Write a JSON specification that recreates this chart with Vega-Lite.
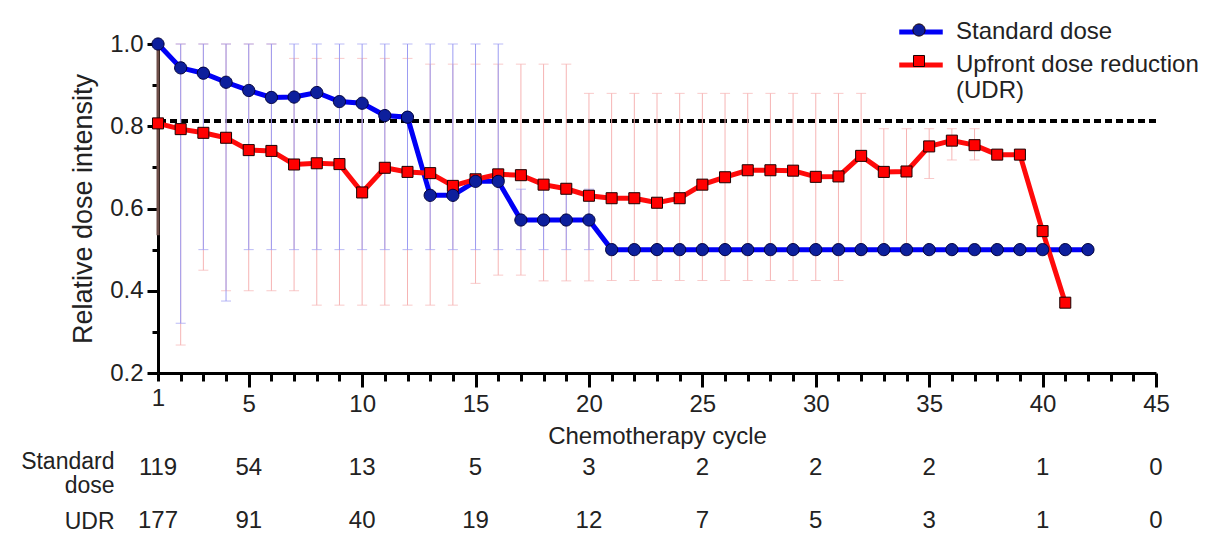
{
  "$schema": "https://vega.github.io/schema/vega-lite/v6.json",
  "background": "white",
  "padding": {"left": 20, "top": 15, "right": 5, "bottom": 5},
  "config": {
    "font": "Liberation Sans",
    "view": {"stroke": null},
    "axis": {"labelFont": "Liberation Sans", "titleFont": "Liberation Sans", "labelColor": "#222222", "titleColor": "#222222", "titleFontWeight": "normal", "grid": false, "labelOverlap": false},
    "legend": {"labelFont": "Liberation Sans", "labelColor": "#222222", "padding": 0}
  },
  "datasets": {
    "rdi": [
      {"cycle": 1, "group": "Standard dose", "rdi": 1.0, "lo": null, "hi": null},
      {"cycle": 2, "group": "Standard dose", "rdi": 0.942, "lo": 0.321, "hi": 1.0},
      {"cycle": 3, "group": "Standard dose", "rdi": 0.929, "lo": 0.5, "hi": 1.0},
      {"cycle": 4, "group": "Standard dose", "rdi": 0.907, "lo": 0.375, "hi": 1.0},
      {"cycle": 5, "group": "Standard dose", "rdi": 0.887, "lo": 0.5, "hi": 1.0},
      {"cycle": 6, "group": "Standard dose", "rdi": 0.87, "lo": 0.5, "hi": 1.0},
      {"cycle": 7, "group": "Standard dose", "rdi": 0.871, "lo": 0.5, "hi": 1.0},
      {"cycle": 8, "group": "Standard dose", "rdi": 0.882, "lo": 0.5, "hi": 1.0},
      {"cycle": 9, "group": "Standard dose", "rdi": 0.86, "lo": 0.5, "hi": 1.0},
      {"cycle": 10, "group": "Standard dose", "rdi": 0.856, "lo": 0.5, "hi": 1.0},
      {"cycle": 11, "group": "Standard dose", "rdi": 0.826, "lo": 0.5, "hi": 1.0},
      {"cycle": 12, "group": "Standard dose", "rdi": 0.822, "lo": 0.5, "hi": 1.0},
      {"cycle": 13, "group": "Standard dose", "rdi": 0.632, "lo": 0.5, "hi": 1.0},
      {"cycle": 14, "group": "Standard dose", "rdi": 0.632, "lo": 0.5, "hi": 1.0},
      {"cycle": 15, "group": "Standard dose", "rdi": 0.666, "lo": 0.5, "hi": 1.0},
      {"cycle": 16, "group": "Standard dose", "rdi": 0.666, "lo": 0.5, "hi": 1.0},
      {"cycle": 17, "group": "Standard dose", "rdi": 0.572, "lo": 0.5, "hi": 0.647},
      {"cycle": 18, "group": "Standard dose", "rdi": 0.572, "lo": 0.5, "hi": 0.647},
      {"cycle": 19, "group": "Standard dose", "rdi": 0.572, "lo": 0.5, "hi": 0.647},
      {"cycle": 20, "group": "Standard dose", "rdi": 0.572, "lo": 0.5, "hi": 0.647},
      {"cycle": 21, "group": "Standard dose", "rdi": 0.5, "lo": null, "hi": null},
      {"cycle": 22, "group": "Standard dose", "rdi": 0.5, "lo": null, "hi": null},
      {"cycle": 23, "group": "Standard dose", "rdi": 0.5, "lo": null, "hi": null},
      {"cycle": 24, "group": "Standard dose", "rdi": 0.5, "lo": null, "hi": null},
      {"cycle": 25, "group": "Standard dose", "rdi": 0.5, "lo": null, "hi": null},
      {"cycle": 26, "group": "Standard dose", "rdi": 0.5, "lo": null, "hi": null},
      {"cycle": 27, "group": "Standard dose", "rdi": 0.5, "lo": null, "hi": null},
      {"cycle": 28, "group": "Standard dose", "rdi": 0.5, "lo": null, "hi": null},
      {"cycle": 29, "group": "Standard dose", "rdi": 0.5, "lo": null, "hi": null},
      {"cycle": 30, "group": "Standard dose", "rdi": 0.5, "lo": null, "hi": null},
      {"cycle": 31, "group": "Standard dose", "rdi": 0.5, "lo": null, "hi": null},
      {"cycle": 32, "group": "Standard dose", "rdi": 0.5, "lo": null, "hi": null},
      {"cycle": 33, "group": "Standard dose", "rdi": 0.5, "lo": null, "hi": null},
      {"cycle": 34, "group": "Standard dose", "rdi": 0.5, "lo": null, "hi": null},
      {"cycle": 35, "group": "Standard dose", "rdi": 0.5, "lo": null, "hi": null},
      {"cycle": 36, "group": "Standard dose", "rdi": 0.5, "lo": null, "hi": null},
      {"cycle": 37, "group": "Standard dose", "rdi": 0.5, "lo": null, "hi": null},
      {"cycle": 38, "group": "Standard dose", "rdi": 0.5, "lo": null, "hi": null},
      {"cycle": 39, "group": "Standard dose", "rdi": 0.5, "lo": null, "hi": null},
      {"cycle": 40, "group": "Standard dose", "rdi": 0.5, "lo": null, "hi": null},
      {"cycle": 41, "group": "Standard dose", "rdi": 0.5, "lo": null, "hi": null},
      {"cycle": 42, "group": "Standard dose", "rdi": 0.5, "lo": null, "hi": null},
      {"cycle": 1, "group": "Upfront dose reduction (UDR)", "rdi": 0.807, "lo": 0.535, "hi": 1.0},
      {"cycle": 2, "group": "Upfront dose reduction (UDR)", "rdi": 0.793, "lo": 0.268, "hi": 1.0},
      {"cycle": 3, "group": "Upfront dose reduction (UDR)", "rdi": 0.784, "lo": 0.45, "hi": 1.0},
      {"cycle": 4, "group": "Upfront dose reduction (UDR)", "rdi": 0.772, "lo": 0.4, "hi": 1.0},
      {"cycle": 5, "group": "Upfront dose reduction (UDR)", "rdi": 0.742, "lo": 0.4, "hi": 1.0},
      {"cycle": 6, "group": "Upfront dose reduction (UDR)", "rdi": 0.74, "lo": 0.4, "hi": 1.0},
      {"cycle": 7, "group": "Upfront dose reduction (UDR)", "rdi": 0.707, "lo": 0.4, "hi": 0.965},
      {"cycle": 8, "group": "Upfront dose reduction (UDR)", "rdi": 0.71, "lo": 0.365, "hi": 0.965},
      {"cycle": 9, "group": "Upfront dose reduction (UDR)", "rdi": 0.708, "lo": 0.365, "hi": 0.965},
      {"cycle": 10, "group": "Upfront dose reduction (UDR)", "rdi": 0.639, "lo": 0.365, "hi": 0.965},
      {"cycle": 11, "group": "Upfront dose reduction (UDR)", "rdi": 0.699, "lo": 0.365, "hi": 0.965},
      {"cycle": 12, "group": "Upfront dose reduction (UDR)", "rdi": 0.689, "lo": 0.365, "hi": 0.965},
      {"cycle": 13, "group": "Upfront dose reduction (UDR)", "rdi": 0.686, "lo": 0.365, "hi": 0.951},
      {"cycle": 14, "group": "Upfront dose reduction (UDR)", "rdi": 0.655, "lo": 0.365, "hi": 0.951},
      {"cycle": 15, "group": "Upfront dose reduction (UDR)", "rdi": 0.671, "lo": 0.418, "hi": 0.951},
      {"cycle": 16, "group": "Upfront dose reduction (UDR)", "rdi": 0.683, "lo": 0.438, "hi": 0.951},
      {"cycle": 17, "group": "Upfront dose reduction (UDR)", "rdi": 0.681, "lo": 0.438, "hi": 0.951},
      {"cycle": 18, "group": "Upfront dose reduction (UDR)", "rdi": 0.658, "lo": 0.424, "hi": 0.951},
      {"cycle": 19, "group": "Upfront dose reduction (UDR)", "rdi": 0.648, "lo": 0.424, "hi": 0.951},
      {"cycle": 20, "group": "Upfront dose reduction (UDR)", "rdi": 0.631, "lo": 0.424, "hi": 0.88},
      {"cycle": 21, "group": "Upfront dose reduction (UDR)", "rdi": 0.625, "lo": 0.425, "hi": 0.88},
      {"cycle": 22, "group": "Upfront dose reduction (UDR)", "rdi": 0.625, "lo": 0.425, "hi": 0.88},
      {"cycle": 23, "group": "Upfront dose reduction (UDR)", "rdi": 0.614, "lo": 0.425, "hi": 0.88},
      {"cycle": 24, "group": "Upfront dose reduction (UDR)", "rdi": 0.625, "lo": 0.425, "hi": 0.88},
      {"cycle": 25, "group": "Upfront dose reduction (UDR)", "rdi": 0.658, "lo": 0.425, "hi": 0.88},
      {"cycle": 26, "group": "Upfront dose reduction (UDR)", "rdi": 0.676, "lo": 0.425, "hi": 0.88},
      {"cycle": 27, "group": "Upfront dose reduction (UDR)", "rdi": 0.693, "lo": 0.425, "hi": 0.88},
      {"cycle": 28, "group": "Upfront dose reduction (UDR)", "rdi": 0.693, "lo": 0.425, "hi": 0.88},
      {"cycle": 29, "group": "Upfront dose reduction (UDR)", "rdi": 0.692, "lo": 0.425, "hi": 0.88},
      {"cycle": 30, "group": "Upfront dose reduction (UDR)", "rdi": 0.677, "lo": 0.425, "hi": 0.88},
      {"cycle": 31, "group": "Upfront dose reduction (UDR)", "rdi": 0.678, "lo": 0.425, "hi": 0.88},
      {"cycle": 32, "group": "Upfront dose reduction (UDR)", "rdi": 0.728, "lo": 0.487, "hi": 0.88},
      {"cycle": 33, "group": "Upfront dose reduction (UDR)", "rdi": 0.689, "lo": 0.487, "hi": 0.794},
      {"cycle": 34, "group": "Upfront dose reduction (UDR)", "rdi": 0.69, "lo": 0.487, "hi": 0.794},
      {"cycle": 35, "group": "Upfront dose reduction (UDR)", "rdi": 0.751, "lo": 0.673, "hi": 0.794},
      {"cycle": 36, "group": "Upfront dose reduction (UDR)", "rdi": 0.765, "lo": 0.718, "hi": 0.794},
      {"cycle": 37, "group": "Upfront dose reduction (UDR)", "rdi": 0.754, "lo": 0.718, "hi": 0.794},
      {"cycle": 38, "group": "Upfront dose reduction (UDR)", "rdi": 0.731, "lo": null, "hi": null},
      {"cycle": 39, "group": "Upfront dose reduction (UDR)", "rdi": 0.731, "lo": null, "hi": null},
      {"cycle": 40, "group": "Upfront dose reduction (UDR)", "rdi": 0.545, "lo": null, "hi": null},
      {"cycle": 41, "group": "Upfront dose reduction (UDR)", "rdi": 0.371, "lo": null, "hi": null}
    ],
    "atrisk": [
      {"cycle": 1, "row": "Standard dose", "n": 119},
      {"cycle": 5, "row": "Standard dose", "n": 54},
      {"cycle": 10, "row": "Standard dose", "n": 13},
      {"cycle": 15, "row": "Standard dose", "n": 5},
      {"cycle": 20, "row": "Standard dose", "n": 3},
      {"cycle": 25, "row": "Standard dose", "n": 2},
      {"cycle": 30, "row": "Standard dose", "n": 2},
      {"cycle": 35, "row": "Standard dose", "n": 2},
      {"cycle": 40, "row": "Standard dose", "n": 1},
      {"cycle": 45, "row": "Standard dose", "n": 0},
      {"cycle": 1, "row": "UDR", "n": 177},
      {"cycle": 5, "row": "UDR", "n": 91},
      {"cycle": 10, "row": "UDR", "n": 40},
      {"cycle": 15, "row": "UDR", "n": 19},
      {"cycle": 20, "row": "UDR", "n": 12},
      {"cycle": 25, "row": "UDR", "n": 7},
      {"cycle": 30, "row": "UDR", "n": 5},
      {"cycle": 35, "row": "UDR", "n": 3},
      {"cycle": 40, "row": "UDR", "n": 1},
      {"cycle": 45, "row": "UDR", "n": 0}
    ]
  },
  "spacing": 2,
  "resolve": {"legend": {"stroke": "independent", "fill": "independent", "shape": "independent"}},
  "vconcat": [
    {
      "width": 998,
      "height": 329,
      "data": {"name": "rdi"},
      "resolve": {"axis": {"x": "independent"}},
      "layer": [
        {
          "mark": {"type": "rule", "strokeDash": [7, 4], "strokeWidth": 2.5, "color": "#000000"},
          "encoding": {"y": {"datum": 0.813, "type": "quantitative"}}
        },
        {
          "transform": [{"filter": "datum.group != 'Standard dose' && datum.lo != null && datum.cycle > 1"}],
          "mark": {"type": "errorbar", "ticks": {"size": 10}, "color": "#f6b4b4", "thickness": 1},
          "encoding": {
            "x": {"field": "cycle", "type": "quantitative", "axis": null},
            "y": {"field": "lo", "type": "quantitative", "title": "Relative dose intensity"},
            "y2": {"field": "hi"}
          }
        },
        {
          "transform": [{"filter": "datum.group != 'Standard dose' && datum.cycle == 1"}],
          "mark": {"type": "rule", "strokeWidth": 3, "color": "#6e4e48"},
          "encoding": {
            "x": {"field": "cycle", "type": "quantitative", "axis": null},
            "y": {"field": "lo", "type": "quantitative", "title": "Relative dose intensity"},
            "y2": {"field": "hi"}
          }
        },
        {
          "transform": [{"filter": "datum.group == 'Standard dose' && datum.lo != null"}],
          "mark": {"type": "errorbar", "ticks": {"size": 10}, "color": "#9c9cf2", "thickness": 1},
          "encoding": {
            "x": {"field": "cycle", "type": "quantitative", "axis": null},
            "y": {"field": "lo", "type": "quantitative", "title": "Relative dose intensity"},
            "y2": {"field": "hi"}
          }
        },
        {
          "mark": {"type": "line", "strokeWidth": 5},
          "encoding": {
            "x": {
              "field": "cycle", "type": "quantitative",
              "scale": {"domain": [1, 45], "nice": false, "zero": false},
              "axis": {
                "orient": "bottom",
                "title": "Chemotherapy cycle",
                "values": [1, 5, 10, 15, 20, 25, 30, 35, 40, 45],
                "tickSize": {"condition": {"test": "datum.value == 1", "value": 8}, "value": 14},
                "tickWidth": 3, "tickColor": "#000000",
                "domainWidth": 3, "domainColor": "#000000",
                "labelFontSize": 24, "labelPadding": 5, "labelOverlap": false, "labelBound": false, "labelFlush": false,
                "titleFontSize": 24, "titlePadding": 8
              }
            },
            "y": {
              "field": "rdi", "type": "quantitative", "title": "Relative dose intensity",
              "scale": {"domain": [0.2, 1.0], "nice": false, "zero": false},
              "axis": {
                "title": "Relative dose intensity",
                "values": [0.2, 0.3, 0.4, 0.5, 0.6, 0.7, 0.8, 0.9, 1.0],
                "labelExpr": "round(datum.value * 10) % 2 == 0 ? format(datum.value, '.1f') : ''",
                "tickSize": {"condition": {"test": "round(datum.value * 10) % 2 == 0", "value": 11}, "value": 6},
                "tickWidth": 3, "tickColor": "#000000",
                "domainWidth": 3, "domainColor": "#000000",
                "labelFontSize": 24, "labelPadding": 4, "labelOverlap": false, "labelFlush": false,
                "titleFontSize": 27, "titlePadding": 12
              }
            },
            "stroke": {
              "field": "group", "type": "nominal",
              "scale": {"domain": ["Standard dose", "Upfront dose reduction (UDR)"], "range": ["#0000f5", "#ff0a0a"]},
              "legend": {
                "title": null, "orient": "none", "legendX": 746, "legendY": -29,
                "symbolType": "M-1.5,0H1.5", "symbolSize": 841, "symbolStrokeWidth": 5,
                "labelFontSize": 24, "labelLimit": 400, "labelOffset": 18, "rowPadding": 4,
                "labelExpr": "datum.label == 'Upfront dose reduction (UDR)' ? ['Upfront dose reduction', '(UDR)'] : datum.label"
              }
            }
          }
        },
        {
          "transform": [{"filter": "datum.group != 'Standard dose'"}],
          "mark": {"type": "point", "filled": true, "size": 841, "stroke": "#1a0000", "strokeWidth": 1, "opacity": 1},
          "encoding": {
            "x": {"field": "cycle", "type": "quantitative", "axis": null},
            "y": {"field": "rdi", "type": "quantitative", "title": "Relative dose intensity"},
            "fill": {
              "field": "group", "type": "nominal",
              "scale": {"domain": ["Upfront dose reduction (UDR)", "Standard dose"], "range": ["#ff0000", "#0d1f9c"]},
              "legend": {
                "title": null, "orient": "none", "legendX": 746, "legendY": -29,
                "values": ["Standard dose", "Upfront dose reduction (UDR)"],
                "symbolSize": 841, "symbolStrokeColor": "#00003a", "symbolStrokeWidth": 1, "symbolOpacity": 1,
                "labelFontSize": 24, "labelOffset": 18, "rowPadding": 4,
                "labelExpr": "''"
              }
            },
            "shape": {
              "field": "group", "type": "nominal",
              "scale": {"domain": ["Upfront dose reduction (UDR)", "Standard dose"], "range": ["M-0.38,-0.38H0.38V0.38H-0.38Z", "M0.42,0A0.42,0.42 0 1,1 -0.42,0A0.42,0.42 0 1,1 0.42,0Z"]}
            }
          }
        },
        {
          "transform": [{"filter": "datum.group == 'Standard dose'"}],
          "mark": {"type": "point", "filled": true, "size": 841, "stroke": "#00003a", "strokeWidth": 1, "opacity": 1},
          "encoding": {
            "x": {
              "field": "cycle", "type": "quantitative",
              "axis": {
                "orient": "bottom", "title": null, "labels": false, "domain": false,
                "values": [2,3,4,6,7,8,9,11,12,13,14,16,17,18,19,21,22,23,24,26,27,28,29,31,32,33,34,36,37,38,39,41,42,43,44],
                "tickSize": 8, "tickWidth": 3, "tickColor": "#000000"
              }
            },
            "y": {"field": "rdi", "type": "quantitative", "title": "Relative dose intensity"},
            "fill": {"field": "group", "type": "nominal"},
            "shape": {"field": "group", "type": "nominal"}
          }
        }
      ]
    },
    {
      "width": 998,
      "height": 53,
      "data": {"name": "atrisk"},
      "mark": {"type": "text", "fontSize": 24, "color": "#222222", "font": "Liberation Sans"},
      "encoding": {
        "x": {"field": "cycle", "type": "quantitative", "scale": {"domain": [1, 45], "nice": false, "zero": false}, "axis": null},
        "y": {
          "field": "row", "type": "nominal",
          "scale": {"type": "point", "domain": ["Standard dose", "UDR"], "padding": 0},
          "axis": {
            "title": null, "domain": false, "ticks": false, "labelFontSize": 23, "labelPadding": 44,
            "labelLineHeight": 24,
            "labelBaseline": {"condition": {"test": "datum.value == 'Standard dose'", "value": "alphabetic"}, "value": "middle"},
            "labelExpr": "datum.value == 'Standard dose' ? ['Standard', 'dose'] : datum.label"
          }
        },
        "text": {"field": "n", "type": "quantitative"}
      }
    }
  ]
}
